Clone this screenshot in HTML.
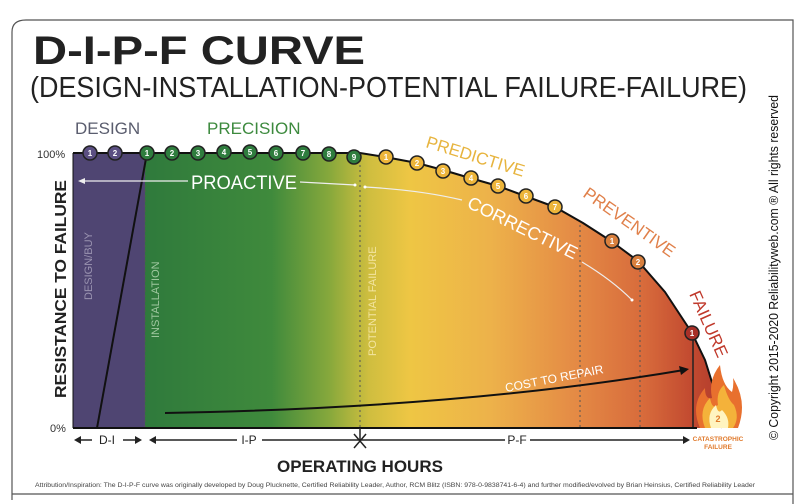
<!DOCTYPE html>
<html><head><meta charset="utf-8"><style>
html,body{margin:0;padding:0;background:#fff;width:800px;height:504px;overflow:hidden}
svg{display:block;font-family:"Liberation Sans",sans-serif}
</style></head><body>
<svg width="800" height="504" viewBox="0 0 800 504" xmlns="http://www.w3.org/2000/svg">
<defs>
<linearGradient id="g" x1="145" y1="0" x2="720" y2="0" gradientUnits="userSpaceOnUse">
<stop offset="0" stop-color="#2f7a3c"/>
<stop offset="0.22" stop-color="#3f8a3c"/>
<stop offset="0.32" stop-color="#86a83c"/>
<stop offset="0.39" stop-color="#cfbe3f"/>
<stop offset="0.46" stop-color="#eec644"/>
<stop offset="0.6" stop-color="#edb24a"/>
<stop offset="0.75" stop-color="#e48a45"/>
<stop offset="0.87" stop-color="#d76a3b"/>
<stop offset="0.95" stop-color="#c24a30"/>
<stop offset="1" stop-color="#b23c2c"/>
</linearGradient>
</defs>
<path d="M12,500 L12,32 Q12,20 26,20 L793,20 L793,504" fill="none" stroke="#555" stroke-width="1.2"/>
<line x1="12" y1="494" x2="793" y2="494" stroke="#555" stroke-width="1.2"/>
<text x="33" y="64" font-size="40" font-weight="bold" fill="#222" textLength="332" lengthAdjust="spacingAndGlyphs">D-I-P-F  CURVE</text>
<text x="30" y="97" font-size="29" fill="#222" textLength="717" lengthAdjust="spacingAndGlyphs">(DESIGN-INSTALLATION-POTENTIAL FAILURE-FAILURE)</text>
<polygon fill="url(#g)" points="145,428 145,153 360,153 385,157 417,163 443,170 470,178 498,186 525,196 555,207 583,223 611,241 638,261 665,292 692,333 705,360 716,395 722,428"/>
<rect x="73" y="153" width="72" height="275" fill="#4f4572"/>
<g stroke="#555" stroke-width="1" stroke-dasharray="2,3">
<line x1="145" y1="160" x2="145" y2="428"/>
<line x1="360" y1="160" x2="360" y2="428"/>
<line x1="580" y1="225" x2="580" y2="428"/>
<line x1="640" y1="265" x2="640" y2="428"/>
</g>
<line x1="693" y1="335" x2="693" y2="428" stroke="#222" stroke-width="1.5"/>
<polyline fill="none" stroke="#111" stroke-width="2" stroke-linejoin="round" points="73,153 360,153 385,157 417,163 443,170 470,178 498,186 525,196 555,207 583,223 611,241 638,261 665,292 692,333 705,360 716,395 722,428"/>
<line x1="97" y1="428" x2="147" y2="153" stroke="#111" stroke-width="2"/>
<line x1="73" y1="428" x2="697" y2="428" stroke="#111" stroke-width="2"/>
<line x1="73" y1="153" x2="73" y2="428" stroke="#111" stroke-width="1"/>
<text transform="translate(92,300) rotate(-90)" font-size="11" fill="#9a93b0">DESIGN/BUY</text>
<text transform="translate(159,338) rotate(-90)" font-size="11" fill="#9fc79f">INSTALLATION</text>
<text transform="translate(376,356) rotate(-90)" font-size="11" fill="#f3e4a0">POTENTIAL FAILURE</text>
<g stroke="#eee" stroke-width="1.2" fill="none">
<line x1="82" y1="181" x2="188" y2="181"/>
<line x1="300" y1="182" x2="355" y2="185"/>
<path d="M365,187 Q420,190 462,200"/>
<path d="M582,262 Q612,280 632,300"/>
</g>
<polygon points="78,181 85,178 85,184" fill="#eee"/>
<circle cx="355" cy="185" r="1.5" fill="#fff"/><circle cx="365" cy="187" r="1.5" fill="#fff"/><circle cx="632" cy="300" r="1.5" fill="#fff"/>
<text x="191" y="189" font-size="19" fill="#fff" textLength="106" lengthAdjust="spacingAndGlyphs">PROACTIVE</text>
<text transform="translate(466,207) rotate(26)" font-size="18" fill="#fff" textLength="120" lengthAdjust="spacingAndGlyphs">CORRECTIVE</text>
<path d="M165,413 Q460,408 684,370" fill="none" stroke="#111" stroke-width="2"/>
<polygon points="689,369 679,366 681,375" fill="#111"/>
<text transform="translate(506,392) rotate(-11)" font-size="12" fill="#fff">COST TO REPAIR</text>
<text x="75" y="134" font-size="17" fill="#5a5d6e">DESIGN</text>
<text x="207" y="134" font-size="17" fill="#3d8a3e">PRECISION</text>
<text transform="translate(425,147) rotate(17)" font-size="17" fill="#e7b43e">PREDICTIVE</text>
<text transform="translate(582,196) rotate(35)" font-size="17" fill="#e0804a">PREVENTIVE</text>
<text transform="translate(689,294) rotate(66)" font-size="17" fill="#c0392b">FAILURE</text>
<g stroke="#222" stroke-width="1.5">
<g fill="#5b4f82"><circle cx="90" cy="153" r="7"/><circle cx="115" cy="153" r="7"/></g>
<g fill="#2f7d3e"><circle cx="147" cy="153" r="7"/><circle cx="172" cy="153" r="7"/><circle cx="198" cy="153" r="7"/><circle cx="224" cy="152" r="7"/><circle cx="250" cy="152" r="7"/><circle cx="276" cy="153" r="7"/><circle cx="303" cy="153" r="7"/><circle cx="329" cy="154" r="7"/><circle cx="354" cy="157" r="7"/></g>
<g fill="#edb53a"><circle cx="386" cy="157" r="7"/><circle cx="417" cy="163" r="7"/><circle cx="443" cy="171" r="7"/><circle cx="471" cy="178" r="7"/><circle cx="498" cy="186" r="7"/><circle cx="526" cy="196" r="7"/><circle cx="555" cy="207" r="7"/></g>
<g fill="#d9803e"><circle cx="612" cy="241" r="7"/><circle cx="638" cy="262" r="7"/></g>
<circle cx="692" cy="333" r="7" fill="#a83028"/>
</g>
<g fill="#fff" font-size="8" font-weight="bold" text-anchor="middle">
<text x="90" y="156">1</text><text x="115" y="156">2</text>
<text x="147" y="156">1</text><text x="172" y="156">2</text><text x="198" y="156">3</text><text x="224" y="155">4</text><text x="250" y="155">5</text><text x="276" y="156">6</text><text x="303" y="156">7</text><text x="329" y="157">8</text><text x="354" y="160">9</text>
<text x="386" y="160">1</text><text x="417" y="166">2</text><text x="443" y="174">3</text><text x="471" y="181">4</text><text x="498" y="189">5</text><text x="526" y="199">6</text><text x="555" y="210">7</text>
<text x="612" y="244">1</text><text x="638" y="265">2</text><text x="692" y="336">1</text>
</g>
<path d="M700,428 Q690,405 705,388 Q705,400 712,398 Q708,380 720,365 Q722,385 732,392 Q734,385 733,378 Q748,402 738,428 Z" fill="#e8702e"/>
<path d="M705,428 Q698,410 710,398 Q712,410 718,405 Q716,392 724,385 Q728,400 734,405 Q740,418 733,428 Z" fill="#f4b23a"/>
<path d="M711,428 Q706,414 716,405 Q718,415 722,410 Q730,418 728,428 Z" fill="#fff4c0"/>
<text x="718" y="422" font-size="9" font-weight="bold" fill="#e07a2c" text-anchor="middle">2</text>
<text x="718" y="441" font-size="6.5" font-weight="bold" fill="#e07a2c" text-anchor="middle">CATASTROPHIC</text>
<text x="718" y="449" font-size="6.5" font-weight="bold" fill="#e07a2c" text-anchor="middle">FAILURE</text>
<text x="37" y="158" font-size="11" fill="#333">100%</text>
<text x="50" y="432" font-size="11" fill="#333">0%</text>
<text transform="translate(66,398) rotate(-90)" font-size="16" font-weight="bold" fill="#222" textLength="218" lengthAdjust="spacingAndGlyphs">RESISTANCE TO FAILURE</text>
<g stroke="#222" stroke-width="1.5">
<line x1="78" y1="440" x2="92" y2="440"/><line x1="123" y1="440" x2="138" y2="440"/>
<line x1="153" y1="440" x2="237" y2="440"/><line x1="262" y1="440" x2="505" y2="440"/>
<line x1="530" y1="440" x2="684" y2="440"/>
<line x1="360" y1="428" x2="360" y2="440"/>
<line x1="354" y1="434" x2="366" y2="448"/><line x1="366" y1="434" x2="354" y2="448"/>
</g>
<g fill="#222">
<polygon points="74,440 81,436 81,444"/><polygon points="142,440 135,436 135,444"/>
<polygon points="149,440 156,436 156,444"/><polygon points="690,440 683,436 683,444"/>
</g>
<g font-size="12" fill="#222" text-anchor="middle">
<text x="107" y="444">D-I</text><text x="249" y="444">I-P</text><text x="517" y="444">P-F</text>
</g>
<text x="360" y="472" font-size="17" font-weight="bold" fill="#222" text-anchor="middle">OPERATING HOURS</text>
<text x="395" y="487" font-size="6.6" fill="#444" text-anchor="middle" textLength="720" lengthAdjust="spacingAndGlyphs">Attribution/Inspiration: The D-I-P-F curve was originally developed by Doug Plucknette, Certified Reliability Leader, Author, RCM Blitz (ISBN: 978-0-9838741-6-4) and further modified/evolved by Brian Heinsius, Certified Reliability Leader</text>
<text transform="translate(778,440) rotate(-90)" font-size="13" fill="#111" textLength="345" lengthAdjust="spacingAndGlyphs">© Copyright 2015-2020 Reliabilityweb.com ® All rights reserved</text>
</svg>
</body></html>
